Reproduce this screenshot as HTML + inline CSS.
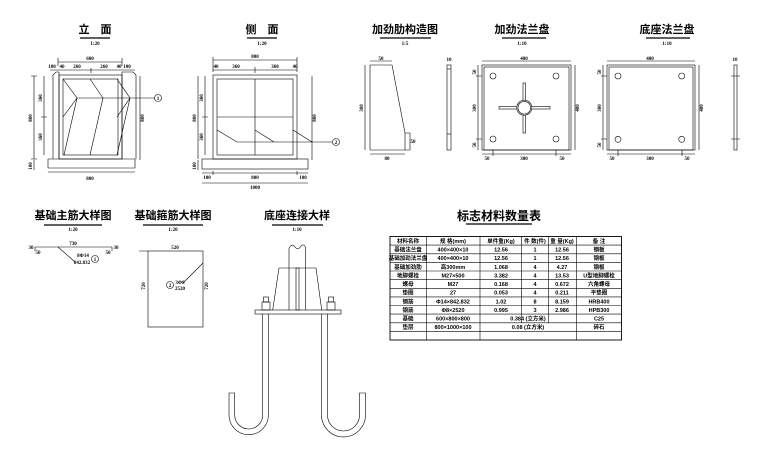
<!DOCTYPE html>
<html><head><meta charset="utf-8"><style>
html,body{margin:0;padding:0;background:#fff;}
svg{display:block;}
text{font-family:"Liberation Serif","Noto Serif CJK SC",serif;fill:#000;}
.t{font-family:"Liberation Sans","Noto Sans CJK SC",sans-serif;font-size:11px;font-weight:bold;text-anchor:middle;}
.s{font-size:5px;text-anchor:middle;font-weight:bold;}
.tb{font-family:"Liberation Sans","Noto Sans CJK SC",sans-serif;font-size:5.5px;text-anchor:middle;font-weight:bold;}
</style></head><body>
<svg width="760" height="464" viewBox="0 0 760 464" xmlns="http://www.w3.org/2000/svg" fill="none" stroke="#000" stroke-width="0.6">
<g stroke="none">
<text class="t" x="95" y="33">立　面</text>
<text class="t" x="262" y="33">侧　面</text>
<text class="t" x="405" y="33">加劲肋构造图</text>
<text class="t" x="522" y="33">加劲法兰盘</text>
<text class="t" x="667" y="33">底座法兰盘</text>
<text class="t" x="73" y="219">基础主筋大样图</text>
<text class="t" x="173" y="219">基础箍筋大样图</text>
<text class="t" x="297" y="219">底座连接大样</text>
<text class="t" x="499" y="220" style="font-size:12px">标志材料数量表</text>
<text class="s" x="95" y="45">1:20</text>
<text class="s" x="262" y="45">1:20</text>
<text class="s" x="405" y="45">1:5</text>
<text class="s" x="522" y="45">1:10</text>
<text class="s" x="667" y="45">1:10</text>
<text class="s" x="73" y="231">1:20</text>
<text class="s" x="173" y="231">1:20</text>
<text class="s" x="297" y="231">1:10</text>
</g>
<g stroke-width="1.2">
<line x1="80" y1="38" x2="110" y2="38"/><line x1="247" y1="38" x2="277" y2="38"/>
<line x1="380" y1="38" x2="431" y2="38"/><line x1="502" y1="38" x2="546" y2="38"/>
<line x1="646" y1="38" x2="690" y2="38"/>
<line x1="44" y1="225" x2="102" y2="225"/><line x1="143" y1="225" x2="203" y2="225"/>
<line x1="272" y1="225" x2="323" y2="225"/><line x1="466" y1="224" x2="532" y2="224"/>
</g>

<!-- 立面 -->
<path d="M48 159 L48 168 L135 168 L135 159 Z"/>
<path d="M53 159 L53 75 L56 72 L59 72 L59 159"/>
<path d="M122 159 L122 72 L133 72 L136 75 L136 159"/>
<rect x="59" y="75" width="63" height="84"/>
<rect x="63" y="79" width="55" height="76"/>
<path d="M63 79 L77 98 L63 117 M64 155 L77 98 M90 79 L103 98 L90 155 M117 79 L130 98 L117 117 M117 155 L130 98"/>
<line x1="77" y1="98" x2="155" y2="98"/><circle cx="158" cy="98" r="3.5"/>
<g stroke="none"><text class="s" x="158" y="100">1</text></g>
<path d="M58 62 L122 62 M58 58 L58 66 M122 58 L122 66 M50 70 L135 70 M91 68 L91 73"/>
<path d="M34 76 L34 159 M31 76 L37 76 M31 159 L37 159 M44 76 L44 155 M41 117 L47 117 M34 160 L34 170 M140 76 L140 160 M48 172 L135 172"/>
<g stroke="none">
<text class="s" x="90" y="60">600</text><text class="s" x="52" y="68">100</text><text class="s" x="62" y="68">40</text>
<text class="s" x="77" y="68">260</text><text class="s" x="104" y="68">260</text><text class="s" x="119" y="68">40</text><text class="s" x="127" y="68">100</text>
<text class="s" x="90" y="180">800</text>
<text class="s" transform="translate(32,118) rotate(-90)">800</text>
<text class="s" transform="translate(42,98) rotate(-90)">360</text>
<text class="s" transform="translate(42,137) rotate(-90)">360</text>
<text class="s" transform="translate(32,166) rotate(-90)">100</text>
<text class="s" transform="translate(144,118) rotate(-90)">800</text>
</g>

<!-- 侧面 -->
<rect x="213" y="75" width="84" height="84"/>
<rect x="217" y="79" width="76" height="76"/>
<line x1="255" y1="79" x2="255" y2="155"/><line x1="217" y1="117" x2="293" y2="117"/>
<path d="M217 130 L237 142 L312 142 M255 130 L274 142 M293 130 L312 142"/>
<circle cx="336" cy="142" r="3.5"/><line x1="312" y1="142" x2="332" y2="142"/>
<g stroke="none"><text class="s" x="336" y="144">2</text></g>
<rect x="202" y="159" width="106" height="10"/>
<path d="M213 60 L297 60 M213 57 L213 72 M297 57 L297 72 M213 70 L297 70 M255 67 L255 73 M198 76 L198 159 M205 76 L205 155 M202 117 L208 117 M198 160 L198 170 M312 76 L312 160 M202 173 L308 173 M213 171 L213 175 M297 171 L297 175 M202 183 L308 183"/>
<g stroke="none">
<text class="s" x="255" y="58">800</text><text class="s" x="216" y="68">40</text><text class="s" x="236" y="68">360</text>
<text class="s" x="275" y="68">360</text><text class="s" x="295" y="68">40</text>
<text class="s" x="207" y="179">100</text><text class="s" x="255" y="179">800</text><text class="s" x="303" y="179">100</text>
<text class="s" x="255" y="189">1000</text>
<text class="s" transform="translate(196,118) rotate(-90)">800</text>
<text class="s" transform="translate(203,98) rotate(-90)">360</text>
<text class="s" transform="translate(203,137) rotate(-90)">360</text>
<text class="s" transform="translate(196,166) rotate(-90)">100</text>
<text class="s" transform="translate(316,118) rotate(-90)">800</text>
</g>

<!-- 加劲肋 -->
<path d="M370 65 L392 65 L405 133 L410 133 L410 150 L370 150 Z M405 133 L405 150"/>
<path d="M370 61 L392 61 M370 154 L405 154 M365 65 L365 150"/>
<rect x="447" y="65" width="4" height="85"/>
<line x1="447" y1="69" x2="451" y2="69"/><line x1="447" y1="134" x2="451" y2="134"/>
<g stroke="none">
<text class="s" x="381" y="60">50</text><text class="s" x="387" y="160">80</text>
<text class="s" transform="translate(363,108) rotate(-90)">300</text><text class="s" x="413" y="143">50</text>
<text class="s" x="449" y="61">10</text>
</g>

<!-- 加劲法兰盘 -->
<rect x="482" y="65" width="89" height="85"/>
<rect x="484" y="67" width="85" height="83"/>
<circle cx="493" cy="76" r="3"/><circle cx="556" cy="76" r="3"/><circle cx="493" cy="139" r="3"/><circle cx="556" cy="139" r="3"/>
<rect x="499" y="106.5" width="51" height="2.5"/><rect x="523" y="83" width="2.5" height="50"/>
<circle cx="524.3" cy="107.7" r="7.5" fill="#fff"/><circle cx="524.3" cy="107.7" r="6.3"/>
<path d="M482 61 L571 61 M478 65 L478 150 M476 76 L482 76 M476 139 L482 139 M575 65 L575 150 M482 154 L571 154 M493 150 L493 156 M556 150 L556 156"/>
<g stroke="none">
<text class="s" x="524" y="60">400</text><text class="s" x="487" y="160">50</text><text class="s" x="524" y="160">300</text><text class="s" x="562" y="160">50</text>
<text class="s" transform="translate(476,72) rotate(-90)">50</text><text class="s" transform="translate(476,108) rotate(-90)">300</text>
<text class="s" transform="translate(476,145) rotate(-90)">50</text><text class="s" transform="translate(579,108) rotate(-90)">400</text>
</g>

<!-- 底座法兰盘 -->
<rect x="607" y="65" width="88" height="85"/>
<rect x="609" y="67" width="84" height="83"/>
<circle cx="618" cy="76" r="3"/><circle cx="681.7" cy="76" r="3"/><circle cx="618" cy="139.3" r="3"/><circle cx="681.7" cy="139.3" r="3"/>
<path d="M607 61 L695 61 M603 65 L603 150 M601 76 L607 76 M601 139 L607 139 M699 65 L699 150 M607 154 L695 154 M618 150 L618 156 M682 150 L682 156"/>
<g stroke="none">
<text class="s" x="650" y="60">400</text><text class="s" x="612" y="160">50</text><text class="s" x="650" y="160">300</text><text class="s" x="687" y="160">50</text>
<text class="s" transform="translate(601,72) rotate(-90)">50</text><text class="s" transform="translate(601,108) rotate(-90)">300</text>
<text class="s" transform="translate(601,145) rotate(-90)">50</text><text class="s" transform="translate(703,108) rotate(-90)">400</text>
<text class="s" x="735" y="61">10</text>
</g>
<rect x="734" y="65" width="3" height="85"/><path d="M731 76 L740 76 M731 139 L740 139"/>

<!-- 主筋 -->
<path d="M35 247 L112 247 M35 247 L35 251 M112 247 L112 251 M58 247 L75 262"/>
<circle cx="95" cy="259" r="3.5"/>
<g stroke="none">
<text class="s" x="73" y="245">730</text><text class="s" x="31" y="249">30</text><text class="s" x="38" y="254">50</text>
<text class="s" x="108" y="254">50</text><text class="s" x="116" y="249">30</text>
<text class="s" x="83" y="257">8Φ14</text><text class="s" x="82" y="264">842.832</text><text class="s" x="95" y="261">1</text>
</g>

<!-- 箍筋 -->
<rect x="148" y="251" width="55" height="76"/>
<path d="M139 251 L148 251 M203 263 L183 283"/>
<circle cx="170" cy="285" r="3.5"/>
<g stroke="none">
<text class="s" x="175" y="249">520</text><text class="s" x="170" y="287">2</text>
<text class="s" x="180" y="284">3Φ8</text><text class="s" x="180" y="290">2520</text>
<text class="s" transform="translate(145,286) rotate(-90)">720</text><text class="s" transform="translate(208,286) rotate(-90)">720</text>
</g>

<!-- 底座连接 -->
<path d="M289 310 L289 248 Q292 243 295 247 Q298 251 301 246 Q304 243 305.7 248 L305.7 310"/>
<path d="M272.7 310 L279 268 L316 268 L321.7 310"/>
<rect x="296" y="268" width="3" height="42"/>
<rect x="255" y="310" width="86" height="4"/>
<rect x="262" y="302" width="8" height="8"/><rect x="263.5" y="297" width="5" height="5"/>
<rect x="327" y="302" width="8" height="8"/><rect x="328.5" y="297" width="5" height="5"/>
<path d="M262.7 314 L262.7 415 A14 14 0 0 1 234.7 415 L234.7 393 L229 393 L229 415 A19.7 19.7 0 0 0 268.4 415 L268.4 314"/>
<path d="M327.5 314 L327.5 415 A16 16 0 0 0 359.5 415 L359.5 393 L365.5 393 L365.5 415 A22 22 0 0 1 321.5 415 L321.5 314"/>

<!-- Table -->
<rect x="390" y="236.5" width="231.5" height="103.5" stroke-width="0.9"/>
<g>
<line x1="390" y1="245.1" x2="621.5" y2="245.1"/><line x1="390" y1="253.8" x2="621.5" y2="253.8"/>
<line x1="390" y1="262.4" x2="621.5" y2="262.4"/><line x1="390" y1="271" x2="621.5" y2="271"/>
<line x1="390" y1="279.6" x2="621.5" y2="279.6"/><line x1="390" y1="288.3" x2="621.5" y2="288.3"/>
<line x1="390" y1="296.9" x2="621.5" y2="296.9"/><line x1="390" y1="305.5" x2="621.5" y2="305.5"/>
<line x1="390" y1="314.1" x2="621.5" y2="314.1"/><line x1="390" y1="322.8" x2="621.5" y2="322.8"/>
<line x1="390" y1="331.4" x2="621.5" y2="331.4"/>
<line x1="426.7" y1="236.5" x2="426.7" y2="340"/><line x1="480" y1="236.5" x2="480" y2="340"/>
<line x1="521.7" y1="236.5" x2="521.7" y2="322.8"/><line x1="548.3" y1="236.5" x2="548.3" y2="322.8"/>
<line x1="576.7" y1="236.5" x2="576.7" y2="340"/>
</g>
<g stroke="none">
<text class="tb" x="408" y="243">材料名称</text><text class="tb" x="453" y="243">规 格(mm)</text><text class="tb" x="501" y="243">单件重(Kg)</text><text class="tb" x="535" y="243">件 数(件)</text><text class="tb" x="562" y="243">重 量(Kg)</text><text class="tb" x="599" y="243">备 注</text>
<text class="tb" x="408" y="251.6">基础法兰盘</text><text class="tb" x="453" y="251.6">400×400×10</text><text class="tb" x="501" y="251.6">12.56</text><text class="tb" x="535" y="251.6">1</text><text class="tb" x="562" y="251.6">12.56</text><text class="tb" x="599" y="251.6">钢板</text>
<text class="tb" x="408" y="260.2">基础加劲法兰盘</text><text class="tb" x="453" y="260.2">400×400×10</text><text class="tb" x="501" y="260.2">12.56</text><text class="tb" x="535" y="260.2">1</text><text class="tb" x="562" y="260.2">12.56</text><text class="tb" x="599" y="260.2">钢板</text>
<text class="tb" x="408" y="268.8">基础加劲肋</text><text class="tb" x="453" y="268.8">高300mm</text><text class="tb" x="501" y="268.8">1.068</text><text class="tb" x="535" y="268.8">4</text><text class="tb" x="562" y="268.8">4.27</text><text class="tb" x="599" y="268.8">钢板</text>
<text class="tb" x="408" y="277.4">地脚螺栓</text><text class="tb" x="453" y="277.4">M27×500</text><text class="tb" x="501" y="277.4">3.382</text><text class="tb" x="535" y="277.4">4</text><text class="tb" x="562" y="277.4">13.53</text><text class="tb" x="599" y="277.4">U型地脚螺栓</text>
<text class="tb" x="408" y="286">螺母</text><text class="tb" x="453" y="286">M27</text><text class="tb" x="501" y="286">0.168</text><text class="tb" x="535" y="286">4</text><text class="tb" x="562" y="286">0.672</text><text class="tb" x="599" y="286">六角螺母</text>
<text class="tb" x="408" y="294.7">垫圈</text><text class="tb" x="453" y="294.7">27</text><text class="tb" x="501" y="294.7">0.053</text><text class="tb" x="535" y="294.7">4</text><text class="tb" x="562" y="294.7">0.211</text><text class="tb" x="599" y="294.7">平垫圈</text>
<text class="tb" x="408" y="303.3">钢筋</text><text class="tb" x="453" y="303.3">Φ14×842.832</text><text class="tb" x="501" y="303.3">1.02</text><text class="tb" x="535" y="303.3">8</text><text class="tb" x="562" y="303.3">8.159</text><text class="tb" x="599" y="303.3">HRB400</text>
<text class="tb" x="408" y="311.9">钢筋</text><text class="tb" x="453" y="311.9">Φ8×2520</text><text class="tb" x="501" y="311.9">0.995</text><text class="tb" x="535" y="311.9">3</text><text class="tb" x="562" y="311.9">2.986</text><text class="tb" x="599" y="311.9">HPB300</text>
<text class="tb" x="408" y="320.5">基础</text><text class="tb" x="453" y="320.5">600×800×800</text><text class="tb" x="528" y="320.5">0.384 (立方米)</text><text class="tb" x="599" y="320.5">C25</text>
<text class="tb" x="408" y="329.2">垫层</text><text class="tb" x="453" y="329.2">800×1000×100</text><text class="tb" x="528" y="329.2">0.08 (立方米)</text><text class="tb" x="599" y="329.2">碎石</text>
</g>
</svg>
</body></html>
